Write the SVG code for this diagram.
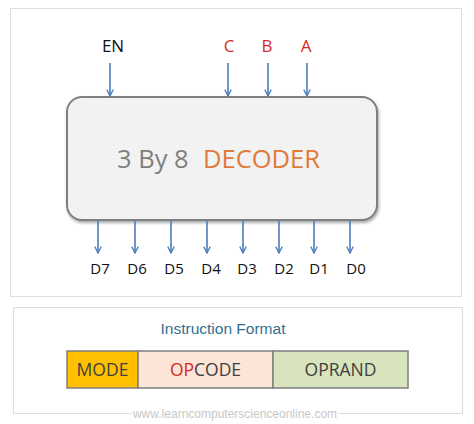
<svg xmlns="http://www.w3.org/2000/svg" width="474" height="424" viewBox="0 0 474 424">
<defs>
<marker id="ah" viewBox="0 0 10 10" refX="9" refY="5" markerWidth="8" markerHeight="8" markerUnits="userSpaceOnUse" orient="auto">
<path d="M1,1 L9,5 L1,9" fill="none" stroke="#4a7ebb" stroke-width="1.6"/>
</marker>
<filter id="sh" x="-10%" y="-10%" width="125%" height="130%">
<feGaussianBlur in="SourceAlpha" stdDeviation="1.5"/>
<feOffset dx="1" dy="2" result="b"/>
<feComponentTransfer><feFuncA type="linear" slope="0.35"/></feComponentTransfer>
<feMerge><feMergeNode/><feMergeNode in="SourceGraphic"/></feMerge>
</filter>
</defs>
<style>
text{font-family:"Open Sans","Noto Sans","Liberation Sans",sans-serif}
.lbl{font-size:15px;fill:#111}
.top{font-size:17px}
.in{fill:#d42a2a}
.ar{stroke:#4a7ebb;stroke-width:1.6;fill:none;marker-end:url(#ah)}
.cell{stroke:#7f7f7f;stroke-width:1.5}
.ct{font-size:17.5px;fill:#404040;text-anchor:middle}
.arial{font-family:"Liberation Sans",Arial,sans-serif}
</style>
<rect width="474" height="424" fill="#fff"/>
<rect x="10.5" y="8.5" width="451" height="288" fill="#fff" stroke="#e0e0e0" stroke-width="1"/>
<g id="decoder">
<rect x="67" y="97" width="310" height="123" rx="15" fill="#f2f2f2" stroke="#7f7f7f" stroke-width="2" filter="url(#sh)"/>
<text x="117" y="168" font-size="25.5" fill="#7f7f7f">3 By 8</text>
<text x="203" y="168" font-size="25.5" fill="#e07b39">DECODER</text>
</g>
<g id="inputs">
<text class="lbl top" x="113" y="52" text-anchor="middle">EN</text>
<text class="lbl top in" x="229" y="52" text-anchor="middle">C</text>
<text class="lbl top in" x="267" y="52" text-anchor="middle">B</text>
<text class="lbl top in" x="306" y="52" text-anchor="middle">A</text>
</g>
<g id="connectors">
<line class="ar" x1="110" y1="63" x2="110" y2="96"/>
<line class="ar" x1="228" y1="63" x2="228" y2="96"/>
<line class="ar" x1="268" y1="63" x2="268" y2="96"/>
<line class="ar" x1="307" y1="63" x2="307" y2="96"/>
<line class="ar" x1="98" y1="221" x2="98" y2="253"/>
<line class="ar" x1="135" y1="221" x2="135" y2="253"/>
<line class="ar" x1="171" y1="221" x2="171" y2="253"/>
<line class="ar" x1="207" y1="221" x2="207" y2="253"/>
<line class="ar" x1="243" y1="221" x2="243" y2="253"/>
<line class="ar" x1="279" y1="221" x2="279" y2="253"/>
<line class="ar" x1="314" y1="221" x2="314" y2="253"/>
<line class="ar" x1="350" y1="221" x2="350" y2="253"/>
</g>
<g id="outputs">
<text class="lbl" x="100" y="274" text-anchor="middle">D7</text>
<text class="lbl" x="137" y="274" text-anchor="middle">D6</text>
<text class="lbl" x="174" y="274" text-anchor="middle">D5</text>
<text class="lbl" x="211" y="274" text-anchor="middle">D4</text>
<text class="lbl" x="247" y="274" text-anchor="middle">D3</text>
<text class="lbl" x="284" y="274" text-anchor="middle">D2</text>
<text class="lbl" x="319" y="274" text-anchor="middle">D1</text>
<text class="lbl" x="356" y="274" text-anchor="middle">D0</text>
</g>
<g id="format">
<path d="M132,413.5 H13.5 V307.5 H462.5 V413.5 H338" fill="none" stroke="#dcdcdc" stroke-width="1"/>
<text class="arial" x="223" y="334" font-size="15.5" fill="#31708f" text-anchor="middle">Instruction Format</text>
<g id="mode"><rect class="cell" x="67" y="351" width="71" height="37" fill="#ffc000"/><text class="ct" x="102.5" y="376">MODE</text></g>
<g id="opcode"><rect class="cell" x="138" y="351" width="135" height="37" fill="#fce4d6"/><text class="ct" x="205.5" y="376"><tspan fill="#d42a2a">OP</tspan>CODE</text></g>
<g id="oprand"><rect class="cell" x="273" y="351" width="135" height="37" fill="#d8e4bc"/><text class="ct" x="340.5" y="376">OPRAND</text></g>
<text class="arial" x="235" y="418" font-size="12" fill="#c8c8c8" text-anchor="middle">www.learncomputerscienceonline.com</text>
</g>
</svg>
